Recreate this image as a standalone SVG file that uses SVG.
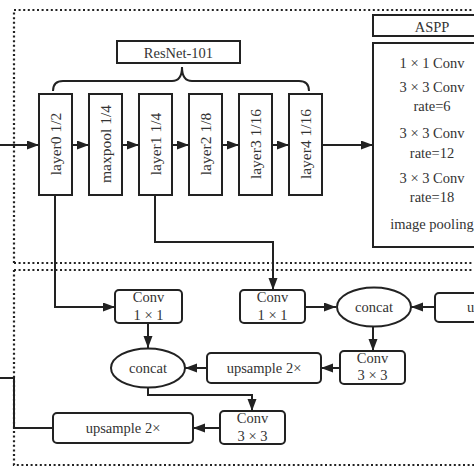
<svg xmlns="http://www.w3.org/2000/svg" width="474" height="474" viewBox="0 0 474 474">
<defs>
<style>
.t{font-family:"Liberation Serif","Times New Roman",serif;font-size:14.5px;fill:#333;text-anchor:middle}
.lt{font-family:"Liberation Serif","Times New Roman",serif;font-size:15.5px;fill:#333;text-anchor:middle;dominant-baseline:central}
.b{fill:#fff;stroke:#222;stroke-width:2}
.c{fill:none;stroke:#222;stroke-width:2}
.d{fill:none;stroke:#222;stroke-width:2.2;stroke-dasharray:2 2.6}
</style>
<marker id="ah" markerUnits="userSpaceOnUse" markerWidth="13" markerHeight="10" refX="12" refY="4.5" orient="auto">
<path d="M0,0 L12,4.5 L0,9 z" fill="#222"/>
</marker>
</defs>
<rect width="474" height="474" fill="#fff"/>
<g id="borders">
<path class="d" d="M14,263 V10 H474 M14,263 H474"/>
<path class="d" d="M14,270 H474 M14,270 V465 H474"/>
</g>
<g id="connectors">
<path class="c" d="M0,145 H39" marker-end="url(#ah)"/>
<path class="c" d="M72,145 H89" marker-end="url(#ah)"/>
<path class="c" d="M122,145 H139" marker-end="url(#ah)"/>
<path class="c" d="M172,145 H189" marker-end="url(#ah)"/>
<path class="c" d="M222,145 H239" marker-end="url(#ah)"/>
<path class="c" d="M272,145 H289" marker-end="url(#ah)"/>
<path class="c" d="M322,145 H373" marker-end="url(#ah)"/>
<path class="c" d="M53,91 Q53,81 63,81 H172 Q182,81 182,67 Q182,81 192,81 H299 Q309,81 309,91"/>
<path class="c" d="M55,195 V307 H115" marker-end="url(#ah)"/>
<path class="c" d="M155,195 V242 H273 V290" marker-end="url(#ah)"/>
<path class="c" d="M148,323 V348" marker-end="url(#ah)"/>
<path class="c" d="M207,368 H185" marker-end="url(#ah)"/>
<path class="c" d="M148,387 V395 H252 V411" marker-end="url(#ah)"/>
<path class="c" d="M220,428 H193" marker-end="url(#ah)"/>
<path class="c" d="M53,428 H14 V378 H0"/>
<path class="c" d="M305,307 H336" marker-end="url(#ah)"/>
<path class="c" d="M435,307 H411" marker-end="url(#ah)"/>
<path class="c" d="M373,327 V351" marker-end="url(#ah)"/>
<path class="c" d="M340,368 H321" marker-end="url(#ah)"/>
</g>
<g id="resnet">
<rect class="b" x="117" y="41" width="123" height="22"/>
<text class="t" x="178.5" y="58">ResNet-101</text>
</g>
<g id="layer0"><rect class="b" x="39" y="94" width="33" height="101"/><text class="lt" transform="translate(55.5,144) rotate(-90)">layer0 1/2</text></g>
<g id="maxpool"><rect class="b" x="89" y="94" width="33" height="101"/><text class="lt" transform="translate(105.5,144) rotate(-90)">maxpool 1/4</text></g>
<g id="layer1"><rect class="b" x="139" y="94" width="33" height="101"/><text class="lt" transform="translate(155.5,144) rotate(-90)">layer1 1/4</text></g>
<g id="layer2"><rect class="b" x="189" y="94" width="33" height="101"/><text class="lt" transform="translate(205.5,144) rotate(-90)">layer2 1/8</text></g>
<g id="layer3"><rect class="b" x="239" y="94" width="33" height="101"/><text class="lt" transform="translate(255.5,144) rotate(-90)">layer3 1/16</text></g>
<g id="layer4"><rect class="b" x="289" y="94" width="33" height="101"/><text class="lt" transform="translate(305.5,144) rotate(-90)">layer4 1/16</text></g>
<g id="aspp-title">
<rect class="b" x="373" y="15" width="120" height="21"/>
<text class="t" x="432" y="32">ASPP</text>
</g>
<g id="aspp">
<rect class="b" x="373" y="43" width="120" height="204"/>
<text class="t" x="432" y="68">1 × 1 Conv</text>
<text class="t" x="432" y="92">3 × 3 Conv</text>
<text class="t" x="432" y="111">rate=6</text>
<text class="t" x="432" y="138">3 × 3 Conv</text>
<text class="t" x="432" y="158">rate=12</text>
<text class="t" x="432" y="183">3 × 3 Conv</text>
<text class="t" x="432" y="202">rate=18</text>
<text class="t" x="432" y="229">image pooling</text>
</g>
<g id="conv1x1-a">
<rect class="b" x="115" y="290" width="67" height="33" rx="4"/>
<text class="t" x="148.5" y="302">Conv</text>
<text class="t" x="148.5" y="320">1 × 1</text>
</g>
<g id="concat-a">
<ellipse class="b" cx="148" cy="368" rx="37" ry="19.5"/>
<text class="t" x="148" y="373">concat</text>
</g>
<g id="upsample-a">
<rect class="b" x="207" y="353" width="114" height="30" rx="4"/>
<text class="t" x="264" y="373">upsample 2×</text>
</g>
<g id="conv3x3-b">
<rect class="b" x="220" y="411" width="65" height="33" rx="4"/>
<text class="t" x="252.5" y="423">Conv</text>
<text class="t" x="252.5" y="441">3 × 3</text>
</g>
<g id="upsample-b">
<rect class="b" x="53" y="413" width="140" height="30" rx="4"/>
<text class="t" x="123" y="433">upsample 2×</text>
</g>
<g id="conv1x1-b">
<rect class="b" x="240" y="290" width="65" height="33" rx="4"/>
<text class="t" x="272.5" y="302">Conv</text>
<text class="t" x="272.5" y="320">1 × 1</text>
</g>
<g id="concat-b">
<ellipse class="b" cx="374" cy="307" rx="37" ry="19.5"/>
<text class="t" x="374" y="312">concat</text>
</g>
<g id="upsample-c">
<rect class="b" x="435" y="293" width="60" height="29" rx="4"/>
<text class="t" x="467" y="312" style="text-anchor:start">upsample 2×</text>
</g>
<g id="conv3x3-a">
<rect class="b" x="340" y="351" width="65" height="33" rx="4"/>
<text class="t" x="372.5" y="363">Conv</text>
<text class="t" x="372.5" y="380">3 × 3</text>
</g>
</svg>
